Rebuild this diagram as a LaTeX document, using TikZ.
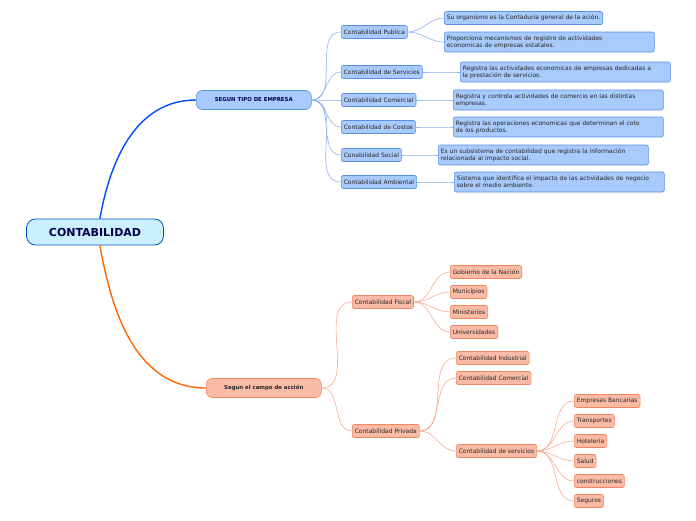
\documentclass[tikz,border=0pt]{standalone}
\usepackage{fontspec}
\setmainfont{DejaVu Sans}
\definecolor{bfill}{HTML}{A8CAFC}
\definecolor{bdraw}{HTML}{5A8FE8}
\definecolor{ofill}{HTML}{F9BBA5}
\definecolor{odraw}{HTML}{F28660}
\begin{document}
\begin{tikzpicture}[x=1pt,y=-1pt,
 bl/.style={draw=bdraw,fill=bfill,line width=0.6pt,rounded corners=2pt,anchor=west,font=\fontsize{6}{7}\selectfont,inner sep=2.5pt,minimum height=13pt,text=black!85},
 or/.style={draw=odraw,fill=ofill,line width=0.6pt,rounded corners=2pt,anchor=west,font=\fontsize{6}{7}\selectfont,inner sep=2.5pt,minimum height=13pt,text=black!85},
 bc/.style={draw=bdraw!70,line width=0.6pt},
 oc/.style={draw=odraw!70,line width=0.6pt}]
\useasboundingbox (0,0) rectangle (696,520);
\node[draw=blue!60!cyan!80!black,fill=cyan!20,line width=0.8pt,rounded corners=9pt,minimum width=137pt,minimum height=26pt,font=\bfseries\fontsize{11}{13}\selectfont,text=blue!30!black] (root) at (95,232) {CONTABILIDAD};
\node[bl,minimum width=115pt,minimum height=19pt,rounded corners=6pt,font=\bfseries\fontsize{5.4}{6}\selectfont,align=center,text=blue!30!black] (a) at (196,100) {SEGUN TIPO DE EMPRESA};
\node[or,minimum width=115pt,minimum height=19pt,rounded corners=6pt,font=\bfseries\fontsize{5.4}{6}\selectfont,align=center] (b) at (206,388) {Segun el campo de acción};
\draw[blue!70!cyan,line width=1.4pt] (root.north east) ++(-64,0) coordinate (r1) to[out=80,in=180] (a.west);
\draw[orange!80!red,line width=1.4pt] (root.south east) ++(-64,0) coordinate (r2) to[out=-80,in=180] (b.west);
\foreach \n/\y/\t in {p/32/Contabilidad Publica,s/72/Contabilidad de Servicios,c/100/Contabilidad Comercial,k/127/Contabilidad de Costos,so/155/Conabilidad Social,am/182/Contabilidad Ambiental}{
 \node[bl] (\n) at (341,\y) {\t};
 \draw[bc] (a.east) to[out=0,in=180] (\n.west);}
\node[bl] (p1) at (444,18) {Su organismo es la Contaduria general de la ación.};
\node[bl,text width=205pt,minimum height=20pt] (p2) at (444,42) {Proporciona mecanismos de registro de actividades\\economicas de empresas estatales.};
\node[bl,text width=205pt,minimum height=20pt] (s1) at (460,72) {Registra las actividades economicas de empresas dedicadas a\\la prestación de servicios.};
\node[bl,text width=205pt,minimum height=20pt] (c1) at (453,100) {Registra y controla actividades de comercio en las distintas\\empresas.};
\node[bl,text width=205pt,minimum height=20pt] (k1) at (453,127) {Registra las operaciones economicas que determinan el coto\\de los productos.};
\node[bl,text width=205pt,minimum height=20pt] (so1) at (438,155) {Es un subsistema de contabilidad que registra la información\\relacionada al impacto social.};
\node[bl,text width=205pt,minimum height=20pt] (am1) at (454,182) {Sistema que identifica el impacto de las actividades de negocio\\sobre el medio ambiente.};
\foreach \u/\v in {p/p1,p/p2,s/s1,c/c1,k/k1,so/so1,am/am1}{\draw[bc] (\u.east) to[out=0,in=180] (\v.west);}
\node[or] (f) at (352,302) {Contabilidad Fiscal};
\node[or] (pr) at (352,431) {Contabilidad Privada};
\foreach \n in {f,pr}{\draw[oc] (b.east) to[out=0,in=180] (\n.west);}
\foreach \n/\y/\t in {f1/272/Gobierno de la Nación,f2/292/Municipios,f3/312/Ministerios,f4/332/Universidades}{
 \node[or] (\n) at (450,\y) {\t}; \draw[oc] (f.east) to[out=0,in=180] (\n.west);}
\node[or] (i) at (456,358) {Contabilidad Industrial};
\node[or] (cm) at (456,378) {Contabilidad Comercial};
\node[or] (sv) at (456,451) {Contabilidad de servicios};
\foreach \n in {i,cm,sv}{\draw[oc] (pr.east) to[out=0,in=180] (\n.west);}
\foreach \n/\y/\t in {e1/401/Empresas Bancarias,e2/421/Transportes,e3/441/Hoteleria,e4/461/Salud,e5/481/construcciones,e6/501/Seguros}{
 \node[or] (\n) at (574,\y) {\t}; \draw[oc] (sv.east) to[out=0,in=180] (\n.west);}
\end{tikzpicture}
\end{document}
